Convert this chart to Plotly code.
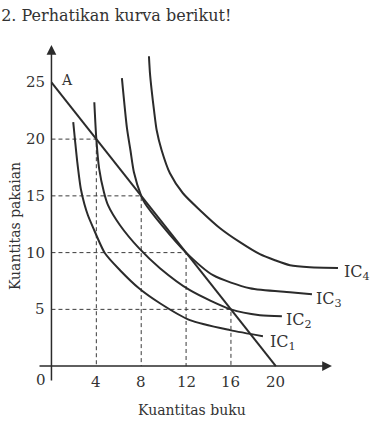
import plotly.graph_objects as go

# ---- data ----
budget_x = [0, 20]
budget_y = [25, 0]

bundle_x = [4, 8, 12, 16]
bundle_y = [20, 15, 10, 5]

ic1_x = [1.94, 2.10, 2.30, 2.62, 2.94, 3.25, 3.70, 4.77, 6.11, 7.80, 9.67, 12.34, 15.91, 18.85]
ic1_y = [21.49, 19.90, 18.00, 15.60, 14.26, 13.29, 12.23, 9.94, 8.45, 6.86, 5.54, 4.05, 3.17, 2.64]

ic2_x = [3.82, 4.0, 4.25, 4.68, 5.04, 6.11, 7.80, 9.67, 12.34, 16.0, 18.58, 20.54]
ic2_y = [23.25, 20.0, 17.40, 15.32, 14.18, 12.41, 10.39, 8.63, 6.69, 5.0, 4.49, 4.40]

ic3_x = [6.28, 6.73, 7.04, 7.35, 8.0, 8.33, 9.85, 12.0, 14.4, 17.69, 21.26, 23.22]
ic3_y = [25.37, 20.96, 19.02, 17.08, 15.0, 14.35, 12.4, 10.0, 8.01, 6.86, 6.51, 6.33]

ic4_x = [8.69, 8.78, 8.93, 9.14, 9.38, 9.82, 10.56, 11.72, 13.24, 15.03, 16.80, 18.58, 19.92, 21.26, 23.04, 25.54]
ic4_y = [27.30, 25.81, 24.31, 22.55, 20.78, 19.02, 16.99, 15.23, 13.74, 12.15, 10.92, 9.86, 9.33, 8.89, 8.71, 8.65]

curve_names = ["IC<sub>1</sub>", "IC<sub>2</sub>", "IC<sub>3</sub>", "IC<sub>4</sub>"]

xticks = [4, 8, 12, 16, 20]
yticks = [5, 10, 15, 20, 25]

INK = "#2b2b2b"
TXT = "#333333"
FONT = "DejaVu Serif"

fig = go.Figure()

# dashed guide lines
for bx, by in zip(bundle_x, bundle_y):
    fig.add_trace(go.Scatter(x=[0, bx, bx], y=[by, by, 0], mode="lines",
                             line=dict(color="#3a3a3a", width=1, dash="4px,3px"),
                             hoverinfo="skip", showlegend=False))

# budget line
fig.add_trace(go.Scatter(x=budget_x, y=budget_y, mode="lines",
                         line=dict(color=INK, width=2), showlegend=False))

# indifference curves
curves = [(ic1_x, ic1_y), (ic2_x, ic2_y), (ic3_x, ic3_y), (ic4_x, ic4_y)]
for (cx, cy) in curves:
    fig.add_trace(go.Scatter(x=cx, y=cy, mode="lines",
                             line=dict(color=INK, width=2, shape="spline", smoothing=0.7),
                             showlegend=False))

ann = []
# axes with arrows
ann.append(dict(x=25.0, y=0, ax=-1.2, ay=0, xref="x", yref="y", axref="x", ayref="y",
                text="", showarrow=True, arrowhead=2, arrowsize=1.3, arrowwidth=1.5,
                arrowcolor=INK))
ann.append(dict(x=0, y=28.3, ax=0, ay=-1.4, xref="x", yref="y", axref="x", ayref="y",
                text="", showarrow=True, arrowhead=2, arrowsize=1.3, arrowwidth=1.5,
                arrowcolor=INK))

# tick labels
for t in xticks:
    ann.append(dict(x=t, y=0, xref="x", yref="y", text=str(t), showarrow=False,
                    xanchor="center", yanchor="middle", yshift=-16,
                    font=dict(family=FONT, size=15, color=TXT)))
for t in yticks:
    ann.append(dict(x=0, y=t, xref="x", yref="y", text=str(t), showarrow=False,
                    xanchor="right", yanchor="middle", xshift=-4,
                    font=dict(family=FONT, size=15, color=TXT)))
ann.append(dict(x=0, y=0, xref="x", yref="y", text="0", showarrow=False,
                xanchor="right", yanchor="middle", xshift=-3, yshift=-14,
                font=dict(family=FONT, size=15, color=TXT)))

# point A
ann.append(dict(x=0, y=budget_y[0], xref="x", yref="y", text="A", showarrow=False,
                xanchor="left", yanchor="middle", xshift=8, yshift=2,
                font=dict(family=FONT, size=14, color=TXT)))

# IC labels
label_shift = [(5, -6), (2, -4), (2, -5), (4, -5)]
for (cx, cy), name, (dx, dy) in zip(curves, curve_names, label_shift):
    ann.append(dict(x=cx[-1], y=cy[-1], xref="x", yref="y", text=name, showarrow=False,
                    xanchor="left", yanchor="middle", xshift=dx, yshift=dy,
                    font=dict(family=FONT, size=16, color=TXT)))

# axis titles
ann.append(dict(x=0.49, y=-0.083, xref="paper", yref="paper", text="Kuantitas buku",
                showarrow=False, xanchor="center", yanchor="middle",
                font=dict(family=FONT, size=14, color=TXT)))
ann.append(dict(x=-0.073, y=0.4615, xref="paper", yref="paper", text="Kuantitas pakaian",
                showarrow=False, xanchor="center", yanchor="middle", textangle=-90,
                font=dict(family=FONT, size=14, color=TXT)))

fig.update_layout(
    width=378, height=422, autosize=False,
    margin=dict(l=38, r=26, t=44, b=40),
    paper_bgcolor="white", plot_bgcolor="white",
    title=dict(text="2. Perhatikan kurva berikut!", x=0.003, xanchor="left",
               xref="container", y=1 - 15 / 422, yref="container", yanchor="middle",
               font=dict(family=FONT, size=16, color=TXT)),
    xaxis=dict(range=[-1.2, 26.79], visible=False, fixedrange=True),
    yaxis=dict(range=[-1.4, 28.38], visible=False, fixedrange=True),
    annotations=ann,
)

fig.write_html("out.html")
